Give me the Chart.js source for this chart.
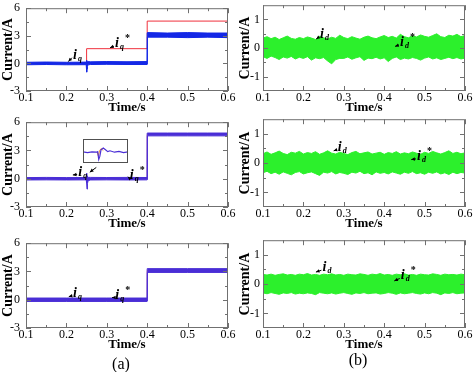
<!DOCTYPE html>
<html>
<head>
<meta charset="utf-8">
<script src="https://cdn.jsdelivr.net/npm/chart.js@4.4.0/dist/chart.umd.min.js"></script>
<style>
  html, body { margin: 0; padding: 0; background: #fff; }
  #wrap { position: relative; width: 474px; height: 372px; overflow: hidden; background: #fff; }
  canvas { position: absolute; }
  .tag { position: absolute; font: 16px "Liberation Serif", serif; color: #000; transform: translate(-50%, -50%); }
</style>
</head>
<body>
<div id="wrap">
  <canvas id="qa1"></canvas>
  <canvas id="qa2"></canvas>
  <canvas id="qa3"></canvas>
  <canvas id="db1"></canvas>
  <canvas id="db2"></canvas>
  <canvas id="db3"></canvas>
  <canvas id="inset"></canvas>
  <div class="tag" style="left:121px; top:364px;">(a)</div>
  <div class="tag" style="left:358px; top:360px;">(b)</div>
</div>
<script>
// tick labels
const timeTicks = [0.1, 0.2, 0.3, 0.4, 0.5, 0.6];
const timeMinor = [0.15, 0.25, 0.35, 0.45, 0.55];
const qTicks = [-3, 0, 3, 6];
const qMinor = [-1.5, 1.5, 4.5];
const dTicks = [-1, 0, 1];
const dMinor = [-0.5, 0.5];

// (a) top: reference step and measured iq band
const refT1 = [0.1, 0.25, 0.25, 0.4, 0.4, 0.6];
const refQ1 = [0, 0, 1.6, 1.6, 4.6, 4.6];
const bandT1 = [0.1, 0.15, 0.2, 0.249, 0.25, 0.2505, 0.251, 0.252, 0.254, 0.26, 0.3, 0.35, 0.3995, 0.4, 0.4005, 0.45, 0.5, 0.55, 0.6];
const iqUp1 = [0.12, 0.15, 0.12, 0.14, 0.35, 0.3, 0.2, 0.18, 0.2, 0.17, 0.2, 0.18, 0.2, 3.3, 3.35, 3.3, 3.35, 3.3, 3.3];
const iqLo1 = [-0.15, -0.12, -0.15, -0.14, -0.3, -0.95, -0.6, -0.3, -0.15, -0.12, -0.1, -0.12, -0.12, -0.1, 2.85, 2.85, 2.8, 2.85, 2.8];

// (a) middle
const refT2 = [0.1, 0.4, 0.4, 0.6];
const refQ2 = [0, 0, 4.7, 4.7];
const bandT2 = [0.1, 0.15, 0.2, 0.249, 0.25, 0.2505, 0.251, 0.252, 0.254, 0.26, 0.3, 0.35, 0.3995, 0.4, 0.4005, 0.45, 0.5, 0.55, 0.6];
const iqUp2 = [0.12, 0.14, 0.12, 0.13, 0.3, 0.6, 0.3, 0.2, 0.15, 0.14, 0.13, 0.14, 0.13, 4.85, 4.85, 4.85, 4.85, 4.85, 4.85];
const iqLo2 = [-0.13, -0.12, -0.13, -0.12, -0.2, -0.5, -1.1, -0.5, -0.2, -0.13, -0.12, -0.13, -0.12, -0.1, 4.55, 4.55, 4.55, 4.55, 4.55];

// (a) bottom
const refT3 = [0.1, 0.4, 0.4, 0.6];
const refQ3 = [0, 0, 3.1, 3.1];
const bandT3 = [0.1, 0.2, 0.3, 0.3995, 0.4, 0.4005, 0.5, 0.6];
const iqUp3 = [0.18, 0.18, 0.18, 0.18, 3.3, 3.3, 3.3, 3.3];
const iqLo3 = [-0.18, -0.18, -0.18, -0.18, -0.15, 2.9, 2.9, 2.9];

// inset of (a) middle, around the 0.25 s disturbance
const insetT = [0.240, 0.243, 0.246, 0.249, 0.2498, 0.2505, 0.2512, 0.252, 0.2535, 0.255, 0.2565, 0.258, 0.261, 0.264, 0.267, 0.270];
const insetQ = [0.02, -0.04, 0.03, 0.0, 0.05, -0.6, -0.35, 0.2, 0.35, 0.2, 0.05, 0.12, 0.0, 0.06, -0.03, 0.02];
const insetRT = [0.2495, 0.2502, 0.251, 0.252, 0.2535];
const insetR = [0.0, -0.3, 0.1, 0.3, 0.15];

// (b) id envelopes
const greenT = [0.10, 0.11, 0.12, 0.13, 0.14, 0.15, 0.16, 0.17, 0.18, 0.19,
  0.20, 0.21, 0.22, 0.23, 0.24, 0.25, 0.26, 0.27, 0.28, 0.29,
  0.30, 0.31, 0.32, 0.33, 0.34, 0.35, 0.36, 0.37, 0.38, 0.39,
  0.40, 0.41, 0.42, 0.43, 0.44, 0.45, 0.46, 0.47, 0.48, 0.49,
  0.50, 0.51, 0.52, 0.53, 0.54, 0.55, 0.56, 0.57, 0.58, 0.59, 0.60];
const refDT = [0.1, 0.6];
const refD = [0, 0];
const idUp1 = [0.35, 0.40, 0.33, 0.38, 0.30, 0.36, 0.42, 0.34, 0.31, 0.37,
  0.33, 0.39, 0.35, 0.30, 0.41, 0.36, 0.32, 0.38, 0.34, 0.45,
  0.37, 0.33, 0.40, 0.35, 0.31, 0.38, 0.42, 0.36, 0.33, 0.39,
  0.44, 0.37, 0.41, 0.35, 0.48, 0.40, 0.36, 0.43, 0.39, 0.46,
  0.41, 0.38, 0.44, 0.50, 0.40, 0.37, 0.45, 0.42, 0.48, 0.40, 0.44];
const idLo1 = [-0.30, -0.36, -0.28, -0.33, -0.40, -0.31, -0.35, -0.29, -0.38, -0.32,
  -0.36, -0.30, -0.42, -0.34, -0.37, -0.33, -0.45, -0.55, -0.40, -0.36,
  -0.36, -0.31, -0.39, -0.34, -0.30, -0.43, -0.35, -0.37, -0.32, -0.38,
  -0.34, -0.47, -0.36, -0.31, -0.40, -0.35, -0.38, -0.33, -0.36, -0.42,
  -0.35, -0.31, -0.38, -0.34, -0.40, -0.36, -0.32, -0.37, -0.33, -0.38, -0.35];
const idUp2 = [0.32, 0.38, 0.30, 0.35, 0.41, 0.33, 0.29, 0.37, 0.34, 0.40,
  0.31, 0.36, 0.33, 0.39, 0.30, 0.35, 0.42, 0.34, 0.31, 0.37,
  0.33, 0.29, 0.36, 0.40, 0.32, 0.35, 0.38, 0.31, 0.34, 0.37,
  0.30, 0.36, 0.33, 0.39, 0.31, 0.35, 0.32, 0.38, 0.34, 0.30,
  0.37, 0.33, 0.40, 0.35, 0.31, 0.36, 0.42, 0.33, 0.37, 0.32, 0.35];
const idLo2 = [-0.33, -0.28, -0.36, -0.31, -0.38, -0.30, -0.35, -0.40, -0.32, -0.29,
  -0.37, -0.33, -0.30, -0.36, -0.42, -0.31, -0.34, -0.29, -0.37, -0.32,
  -0.35, -0.39, -0.31, -0.34, -0.28, -0.36, -0.33, -0.40, -0.30, -0.35,
  -0.32, -0.37, -0.30, -0.34, -0.38, -0.31, -0.35, -0.29, -0.36, -0.33,
  -0.38, -0.31, -0.35, -0.30, -0.37, -0.33, -0.39, -0.31, -0.36, -0.32, -0.34];
const idUp3 = [0.33, 0.31, 0.34, 0.30, 0.33, 0.35, 0.31, 0.33, 0.30, 0.34,
  0.32, 0.36, 0.31, 0.33, 0.30, 0.34, 0.32, 0.35, 0.31, 0.33,
  0.30, 0.34, 0.32, 0.31, 0.35, 0.33, 0.30, 0.34, 0.32, 0.36,
  0.31, 0.33, 0.30, 0.34, 0.32, 0.35, 0.31, 0.33, 0.30, 0.34,
  0.32, 0.31, 0.35, 0.33, 0.30, 0.34, 0.32, 0.33, 0.31, 0.34, 0.32];
const idLo3 = [-0.30, -0.33, -0.29, -0.32, -0.35, -0.30, -0.32, -0.29, -0.34, -0.31,
  -0.33, -0.30, -0.32, -0.36, -0.29, -0.31, -0.33, -0.30, -0.34, -0.31,
  -0.29, -0.32, -0.35, -0.30, -0.32, -0.29, -0.33, -0.31, -0.30, -0.34,
  -0.32, -0.29, -0.31, -0.35, -0.30, -0.33, -0.31, -0.29, -0.32, -0.34,
  -0.30, -0.33, -0.29, -0.31, -0.36, -0.30, -0.32, -0.29, -0.33, -0.31, -0.30];

const RED = '#f0303c';
const BLUE = '#1428e6';
const PURPLE = '#4a2ed6';
const GREEN = '#2cf02c';
const DKGREEN = '#14941a';
const SERIF = '"Liberation Serif", "DejaVu Serif", serif';

const rows = [{ top: 3, bottom: 91 }, { top: 117, bottom: 207 }, { top: 238, bottom: 328 }];

function pts(t, v) { return t.map((x, i) => ({ x: x, y: v[i] })); }
function line(t, v, color, w) {
  return { data: pts(t, v), borderColor: color, backgroundColor: color, borderWidth: w, fill: false };
}
function band(t, up, lo, color) {
  return [
    { data: pts(t, up), borderColor: color, backgroundColor: color, borderWidth: 1, fill: false },
    { data: pts(t, lo), borderColor: color, backgroundColor: color, borderWidth: 1, fill: '-1' }
  ];
}

// frame with inward ticks on all four sides
const boxTicks = {
  id: 'boxTicks',
  afterDatasetsDraw(chart, args, o) {
    if (!o || !o.on) return;
    const { ctx, chartArea: a, scales: { x, y } } = chart;
    ctx.save();
    ctx.strokeStyle = o.color || '#707070';
    ctx.lineWidth = 1;
    ctx.strokeRect(a.left + 0.5, a.top + 0.5, a.right - a.left - 1, a.bottom - a.top - 1);
    ctx.beginPath();
    const xt = (v, len) => {
      const px = Math.round(x.getPixelForValue(v)) + 0.5;
      ctx.moveTo(px, a.bottom); ctx.lineTo(px, a.bottom - len);
      ctx.moveTo(px, a.top); ctx.lineTo(px, a.top + len);
    };
    const yt = (v, len) => {
      const py = Math.round(y.getPixelForValue(v)) + 0.5;
      ctx.moveTo(a.left, py); ctx.lineTo(a.left + len, py);
      ctx.moveTo(a.right, py); ctx.lineTo(a.right - len, py);
    };
    (o.xMajor || []).forEach(v => xt(v, 5));
    (o.xMinor || []).forEach(v => xt(v, 3));
    (o.yMajor || []).forEach(v => yt(v, 5));
    (o.yMinor || []).forEach(v => yt(v, 3));
    ctx.stroke();
    ctx.restore();
  }
};

// i_q / i_d labels with small arrows
const currentTags = {
  id: 'currentTags',
  afterDraw(chart, args, o) {
    if (!o || !o.items) return;
    const { ctx, scales: { x, y } } = chart;
    ctx.save();
    ctx.fillStyle = '#000';
    ctx.strokeStyle = '#000';
    ctx.lineWidth = 1;
    ctx.textAlign = 'left';
    ctx.textBaseline = 'alphabetic';
    for (const t of o.items) {
      const px = x.getPixelForValue(t.x), py = y.getPixelForValue(t.y);
      let tx = px, ty = py;
      if (t.sub) {
        ctx.font = 'italic bold 14px ' + SERIF;
        ctx.fillText('i', px - 2, py + 5);
        ctx.font = 'italic bold 8px ' + SERIF;
        ctx.fillText(t.sub, px + 3, py + 7);
        if (t.star) {
          ctx.font = 'bold 10px ' + SERIF;
          ctx.fillText('*', px + 8, py - 1);
        }
        tx = px - 3; ty = py + 4;
      }
      const hx = x.getPixelForValue(t.ax), hy = y.getPixelForValue(t.ay);
      const ang = Math.atan2(hy - ty, hx - tx);
      ctx.beginPath();
      ctx.moveTo(tx, ty); ctx.lineTo(hx, hy);
      ctx.stroke();
      ctx.beginPath();
      ctx.moveTo(hx, hy);
      ctx.lineTo(hx - 4 * Math.cos(ang - 0.45), hy - 4 * Math.sin(ang - 0.45));
      ctx.lineTo(hx - 4 * Math.cos(ang + 0.45), hy - 4 * Math.sin(ang + 0.45));
      ctx.closePath();
      ctx.fill();
    }
    ctx.restore();
  }
};

function panel(id, col, row, datasets, yMin, yMax, yMajor, yMinor, tags) {
  const r = rows[row];
  const cv = document.getElementById(id);
  const padTop = 8;
  cv.width = 237;
  cv.height = r.bottom + 24 - (r.top - padTop);
  cv.style.left = (col * 237) + 'px';
  cv.style.top = (r.top - padTop) + 'px';
  new Chart(cv, {
    type: 'line',
    data: { datasets: datasets },
    options: {
      responsive: false,
      animation: false,
      events: [],
      layout: { padding: { top: padTop, right: 9, left: 0, bottom: 0 } },
      elements: { point: { radius: 0 }, line: { tension: 0 } },
      plugins: {
        legend: { display: false },
        tooltip: { enabled: false },
        boxTicks: { on: true, xMajor: timeTicks, xMinor: timeMinor, yMajor: yMajor, yMinor: yMinor },
        currentTags: { items: tags }
      },
      scales: {
        x: {
          type: 'linear', min: 0.1, max: 0.6,
          grid: { display: false, drawTicks: false }, border: { display: false },
          afterBuildTicks: s => { s.ticks = timeTicks.map(v => ({ value: v })); },
          afterFit: s => { s.height = 24; },
          ticks: { color: '#000', padding: 0, maxRotation: 0, font: { family: SERIF, size: 12 }, callback: v => String(v) },
          title: { display: true, text: 'Time/s', color: '#000', padding: 0, font: { family: SERIF, size: 13, weight: 'bold' } }
        },
        y: {
          min: yMin, max: yMax,
          grid: { display: false, drawTicks: false }, border: { display: false },
          afterBuildTicks: s => { s.ticks = yMajor.map(v => ({ value: v })); },
          afterFit: s => { s.width = 26; },
          ticks: { color: '#000', padding: col ? 3 : 6, font: { family: SERIF, size: 12 }, callback: v => String(v) },
          title: { display: true, text: 'Current/A', color: '#000', padding: { top: 0, bottom: 0 }, font: { family: SERIF, size: 14, weight: 'bold' } }
        }
      }
    },
    plugins: [boxTicks, currentTags]
  });
}

panel('qa1', 0, 0,
  [...band(bandT1, iqUp1, iqLo1, BLUE), line(refT1, refQ1, RED, 1)],
  -3, 6, qTicks, qMinor,
  [{ x: 0.221, y: 1.05, sub: 'q', ax: 0.205, ay: 0.2 },
   { x: 0.325, y: 2.3, sub: 'q', star: true, ax: 0.308, ay: 1.7 }]);

panel('qa2', 0, 1,
  [...band(bandT2, iqUp2, iqLo2, PURPLE), line(refT2, refQ2, 'rgba(240,48,60,0.6)', 1)],
  -3, 6, qTicks, qMinor,
  [{ x: 0.234, y: 0.87, sub: 'q', ax: 0.216, ay: 0.4 },
   { x: 0.274, y: 1.2, ax: 0.258, ay: 0.7 },
   { x: 0.362, y: 0.53, sub: 'q', star: true, ax: 0.352, ay: 0.2 }]);

panel('qa3', 0, 2,
  [...band(bandT3, iqUp3, iqLo3, PURPLE), line(refT3, refQ3, 'rgba(240,48,60,0.6)', 1)],
  -3, 6, qTicks, qMinor,
  [{ x: 0.221, y: 0.83, sub: 'q', ax: 0.206, ay: 0.33 },
   { x: 0.326, y: 0.66, sub: 'q', star: true, ax: 0.313, ay: 0.23 }]);

panel('db1', 1, 0,
  [...band(greenT, idUp1, idLo1, GREEN), line(refDT, refD, DKGREEN, 1)],
  -1.5, 1.5, dTicks, dMinor,
  [{ x: 0.246, y: 0.53, sub: 'd', ax: 0.232, ay: 0.32 },
   { x: 0.444, y: 0.25, sub: 'd', star: true, ax: 0.427, ay: 0.06 }]);

panel('db2', 1, 1,
  [...band(greenT, idUp2, idLo2, GREEN), line(refDT, refD, DKGREEN, 1)],
  -1.5, 1.5, dTicks, dMinor,
  [{ x: 0.29, y: 0.59, sub: 'd', ax: 0.275, ay: 0.42 },
   { x: 0.486, y: 0.28, sub: 'd', star: true, ax: 0.467, ay: 0.12 }]);

panel('db3', 1, 2,
  [...band(greenT, idUp3, idLo3, GREEN), line(refDT, refD, DKGREEN, 1)],
  -1.5, 1.5, dTicks, dMinor,
  [{ x: 0.252, y: 0.61, sub: 'd', ax: 0.231, ay: 0.41 },
   { x: 0.446, y: 0.33, sub: 'd', star: true, ax: 0.425, ay: 0.11 }]);

// inset
const ic = document.getElementById('inset');
ic.width = 45; ic.height = 24;
ic.style.left = '83px'; ic.style.top = '139px';
new Chart(ic, {
  type: 'line',
  data: { datasets: [line(insetT, insetQ, PURPLE, 1.2), line(insetRT, insetR, '#f08a30', 1)] },
  options: {
    responsive: false, animation: false, events: [],
    layout: { padding: 0 },
    elements: { point: { radius: 0 }, line: { tension: 0 } },
    plugins: { legend: { display: false }, tooltip: { enabled: false }, boxTicks: { on: true, color: '#505050' } },
    scales: {
      x: { type: 'linear', min: 0.24, max: 0.27, display: false },
      y: { min: -0.9, max: 1.1, display: false }
    }
  },
  plugins: [boxTicks]
});
</script>
</body>
</html>
